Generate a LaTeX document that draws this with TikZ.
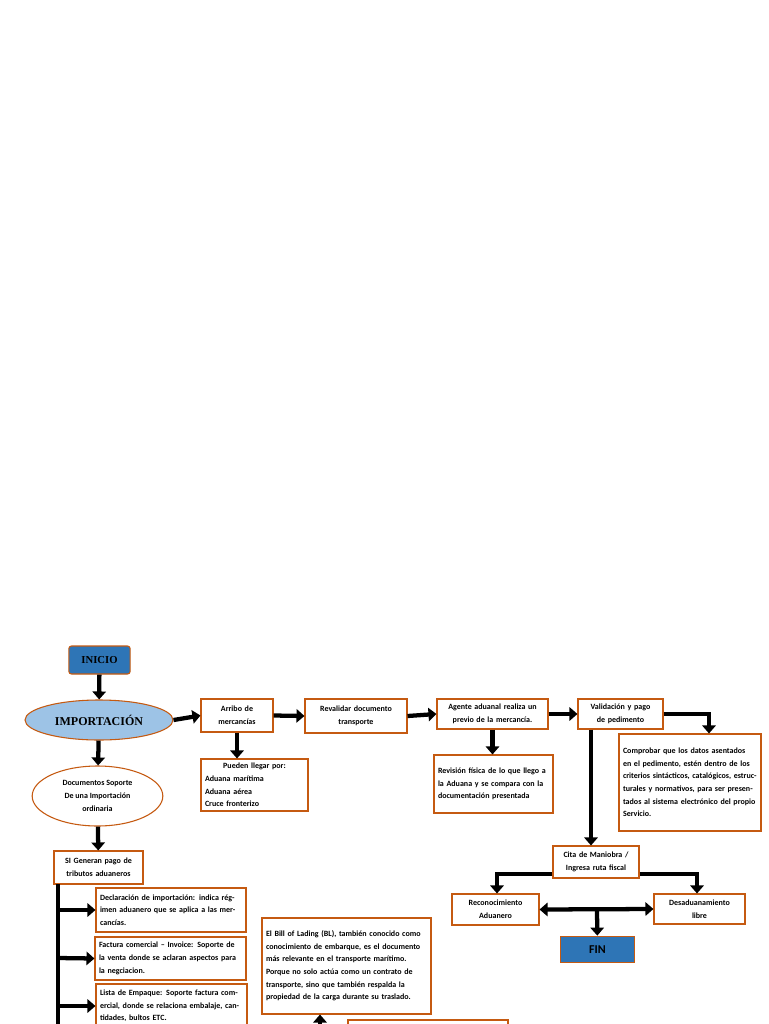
\documentclass[tikz,border=0pt]{standalone}
\usepackage{fontspec}
\setmainfont{Carlito}
\usetikzlibrary{arrows.meta,shapes.geometric}
\definecolor{ob}{HTML}{C55A11}
\definecolor{db}{HTML}{2E75B6}
\definecolor{lb}{HTML}{9DC3E6}
\definecolor{ab}{HTML}{1F3864}
\tikzset{
 bx/.style={draw=ob,line width=0.8pt,fill=white,inner sep=2pt,font=\fontsize{6}{9.5}\selectfont\bfseries,align=center},
 bxl/.style={bx,align=left},
 ell/.style={ellipse,draw=ob,line width=0.8pt,font=\fontsize{6}{9.5}\selectfont\bfseries,align=center},
 tt/.style={draw=ob,line width=0.8pt,fill=db,font=\fontsize{9}{10}\selectfont\bfseries\rmfamily},
 ar/.style={line width=3.2pt,draw=black,-{Triangle[length=6pt,width=10pt]}},
 ln/.style={line width=3.2pt,draw=black}
}
\begin{document}
\begin{tikzpicture}[x=0.75pt,y=-0.75pt]
\useasboundingbox (0,0) rectangle (768,1024);
\fill[white] (0,0) rectangle (768,1024);
\newcommand{\bxat}[5]{\node[#1,minimum width=#4*0.75pt,minimum height=#5*0.75pt,text width=(#4-8)*0.75pt] (#2) at (#3) }
% nodes
\node[tt,minimum width=46pt,minimum height=21pt,rounded corners=2pt,font=\fontsize{8}{9}\selectfont\bfseries\fontspec{Liberation Serif}] (ini) at (99.5,660) {INICIO};
\node[ell,fill=lb,minimum width=111pt,minimum height=30pt,font=\fontsize{9}{10}\selectfont\bfseries\fontspec{Liberation Serif}] (imp) at (99,720) {IMPORTACIÓN};
\node[ell,fill=white,minimum width=98pt,minimum height=45pt] (doc) at (97.5,796) {Documentos Soporte\\De una Importación\\ordinaria};
\bxat{bx}{arr}{237,715.5}{72}{33}{Arribo de\\mercancías};
\bxat{bxl}{pue}{254.5,785}{107}{52}{\centering Pueden llegar por:\par\raggedright Aduana marítima\\Aduana aérea\\Cruce fronterizo};
\bxat{bx}{rev}{356,716}{102}{34}{Revalidar documento\\transporte};
\bxat{bx}{age}{492.5,714}{111}{30}{Agente aduanal realiza un\\previo de la mercancía.};
\bxat{bxl}{rvs}{493.5,784}{119}{58}{Revisión física de lo que llego a la Aduana y se compara con la documentación presentada};
\bxat{bx}{val}{620.5,714}{85}{30}{Validación y pago\\de pedimento};
\bxat{bxl}{com}{690,782.5}{142}{97}{Comprobar que los datos asentados en el pedimento, estén dentro de los criterios sintácticos, catalógicos, estructurales y normativos, para ser presentados al sistema electrónico del propio Servicio.};
\bxat{bx}{cit}{596,862}{86}{32}{Cita de Maniobra /\\Ingresa ruta fiscal};
\bxat{bx}{rec}{495.5,909.5}{87}{31}{Reconocimiento\\Aduanero};
\bxat{bx}{des}{699.5,909}{91}{30}{Desaduanamiento\\libre};
\node[tt,minimum width=56pt,minimum height=20pt] (fin) at (597.5,949.5) {FIN};
\bxat{bx}{sig}{98.5,867.5}{89}{33}{SI Generan pago de\\tributos aduaneros};
\bxat{bxl}{dec}{171,910}{150}{44}{Declaración de importación: indica régimen aduanero que se aplica a las mercancías.};
\bxat{bxl}{fac}{170.5,958.5}{151}{43}{Factura comercial – Invoice: Soporte de la venta donde se aclaran aspectos para la negciacion.};
\bxat{bxl}{lis}{171.5,1006}{151}{44}{Lista de Empaque: Soporte factura comercial, donde se relaciona embalaje, cantidades, bultos ETC.};
\bxat{bxl}{bl}{346.5,966}{169}{96}{El Bill of Lading (BL), también conocido como conocimiento de embarque, es el documento más relevante en el transporte marítimo. Porque no solo actúa como un contrato de transporte, sino que también respalda la propiedad de la carga durante su traslado.};
\node[bx,minimum width=120pt,minimum height=30pt] (bot) at (428,1040) {};
% coordinates
\coordinate (c1) at (709,713);
\coordinate (c2) at (497,874);
\coordinate (c3) at (697,874);
\coordinate (mid) at (597,910);
\coordinate (vt) at (58,884);
\coordinate (vb) at (58,1030);
\coordinate (b1) at (58,910);
\coordinate (b2) at (58,958);
\coordinate (b3) at (58,1006);
\coordinate (ub) at (320,1030);
% arrows
\draw[ar] (ini) -- (imp);
\draw[ar] (imp) -- (doc);
\draw[ar] (doc) -- (sig);
\draw[ar] (imp.east) -- (arr.west);
\draw[ar] (arr) -- (pue.north -| arr);
\draw[ar] (arr.east) -- (rev.west);
\draw[ar] (rev.east) -- (age.west);
\draw[ar] (age) -- (rvs.north -| age);
\draw[ar] (age.east) -- (val.west);
\draw[ar] (val.east) -| (com.north -| c1);
\draw[ar] (val.south -| 591,0) -- (cit.north -| 591,0);
\draw[ar] (cit.west |- c2) -| (rec.north -| c2);
\draw[ar] (cit.east |- c3) -| (des.north -| c3);
\draw[line width=3.2pt,{Triangle[length=6pt,width=10pt]}-{Triangle[length=6pt,width=10pt]}] (rec.east) -- (des.west);
\draw[ar] (mid) -- (fin);
\draw[ln] (vt) -- (vb);
\draw[ar] (b1) -- (dec.west);
\draw[ar] (b2) -- (fac.west);
\draw[ar] (b3) -- (lis.west);
\draw[ar] (ub) -- (bl.south -| ub);
\end{tikzpicture}
\end{document}
